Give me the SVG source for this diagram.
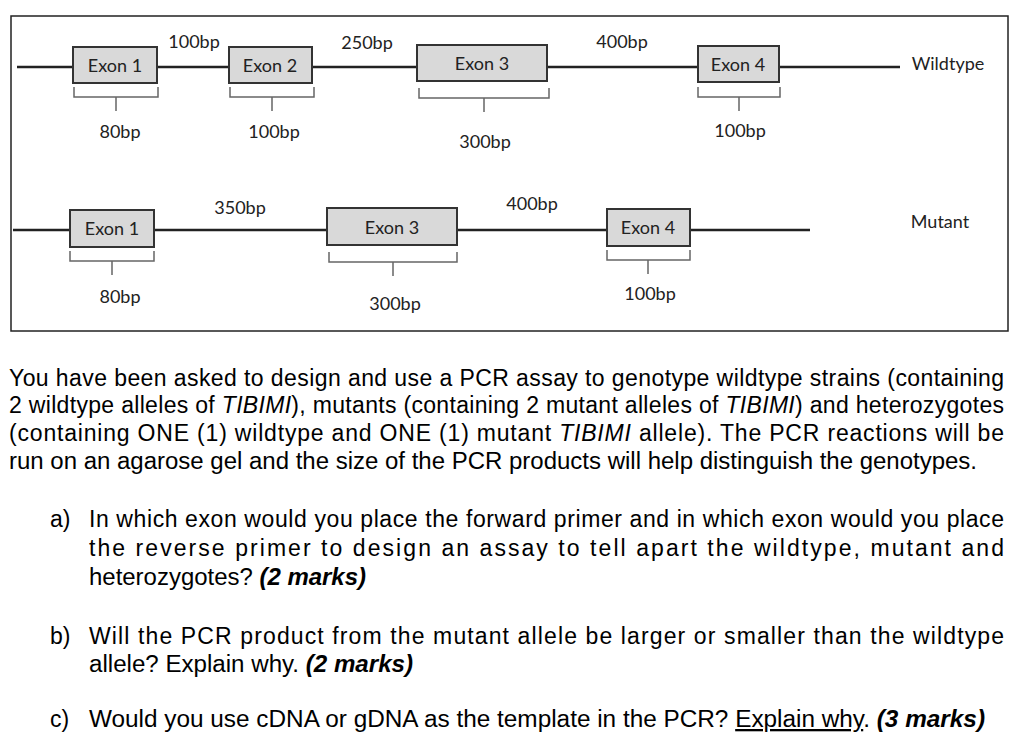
<svg xmlns="http://www.w3.org/2000/svg" width="1024" height="742" viewBox="0 0 1024 742">
<style>
.ex{fill:#d9d9d9;stroke:#333;stroke-width:2}
.ln{stroke:#222;stroke-width:2.5;fill:none}
.br{stroke:#666;stroke-width:1.5;fill:none}
.d{font-family:"Century Gothic","Lato","DejaVu Sans",sans-serif;font-size:18px;fill:#222;text-anchor:middle}
.t{font-family:"Liberation Sans",Arial,sans-serif;font-size:23px;fill:#000}
</style>
<rect x="11" y="16" width="997" height="315" fill="#fff" stroke="#222" stroke-width="1.5"/>
<g id="connectors">
<path class="ln" d="M17 67H900"/>
<path class="ln" d="M13 230H810"/>
<path class="br" d="M74 87v10h84v-10M116 97v14"/>
<path class="br" d="M230 87v10h84v-10M272 97v14"/>
<path class="br" d="M419 88v10h130v-10M484 98v14"/>
<path class="br" d="M698 87v10h82v-10M739 97v14"/>
<path class="br" d="M70 251v10h84v-10M112 261v14"/>
<path class="br" d="M329 252v10h128v-10M393 262v14"/>
<path class="br" d="M607 250v10h83v-10M648 260v14"/>
</g>
<g id="wt-exon1"><rect class="ex" x="73" y="47" width="84" height="36"/><text class="d" x="115" y="72">Exon 1</text></g>
<g id="wt-exon2"><rect class="ex" x="229" y="47" width="83" height="36"/><text class="d" x="270" y="72">Exon 2</text></g>
<g id="wt-exon3"><rect class="ex" x="417" y="45" width="130" height="36"/><text class="d" x="482" y="70">Exon 3</text></g>
<g id="wt-exon4"><rect class="ex" x="698" y="46" width="81" height="36"/><text class="d" x="738" y="71">Exon 4</text></g>
<g id="mu-exon1"><rect class="ex" x="70" y="210" width="84" height="37"/><text class="d" x="112" y="235">Exon 1</text></g>
<g id="mu-exon3"><rect class="ex" x="327" y="208" width="130" height="37"/><text class="d" x="392" y="234">Exon 3</text></g>
<g id="mu-exon4"><rect class="ex" x="607" y="209" width="83" height="37"/><text class="d" x="648" y="234">Exon 4</text></g>
<g id="labels" class="d">
<text x="194" y="48">100bp</text><text x="367" y="49">250bp</text><text x="622" y="48">400bp</text>
<text x="120" y="138">80bp</text><text x="274" y="138">100bp</text><text x="485" y="148">300bp</text><text x="740" y="137">100bp</text>
<text x="240" y="214">350bp</text><text x="532" y="210">400bp</text>
<text x="120" y="303">80bp</text><text x="395" y="310">300bp</text><text x="650" y="300">100bp</text>
<text x="948" y="70">Wildtype</text><text x="940" y="228">Mutant</text>
</g>
<g class="t">
<text x="9" y="386" textLength="995" lengthAdjust="spacing">You have been asked to design and use a PCR assay to genotype wildtype strains (containing</text>
<text x="9" y="413" textLength="995" lengthAdjust="spacing">2 wildtype alleles of <tspan font-style="italic">TIBIMI</tspan>), mutants (containing 2 mutant alleles of <tspan font-style="italic">TIBIMI</tspan>) and heterozygotes</text>
<text x="9" y="441" textLength="995" lengthAdjust="spacing">(containing ONE (1) wildtype and ONE (1) mutant <tspan font-style="italic">TIBIMI</tspan> allele). The PCR reactions will be</text>
<text x="9" y="469" textLength="968" lengthAdjust="spacingAndGlyphs">run on an agarose gel and the size of the PCR products will help distinguish the genotypes.</text>
<text x="50" y="527">a)</text>
<text x="89" y="527" textLength="915" lengthAdjust="spacing">In which exon would you place the forward primer and in which exon would you place</text>
<text x="89" y="556" textLength="915" lengthAdjust="spacing">the reverse primer to design an assay to tell apart the wildtype, mutant and</text>
<text x="89" y="585" textLength="277" lengthAdjust="spacingAndGlyphs">heterozygotes? <tspan font-weight="bold" font-style="italic">(2 marks)</tspan></text>
<text x="50" y="644">b)</text>
<text x="89" y="644" textLength="915" lengthAdjust="spacing">Will the PCR product from the mutant allele be larger or smaller than the wildtype</text>
<text x="89" y="672" textLength="324" lengthAdjust="spacingAndGlyphs">allele? Explain why. <tspan font-weight="bold" font-style="italic">(2 marks)</tspan></text>
<text x="50" y="727">c)</text>
<text x="89" y="727" textLength="896" lengthAdjust="spacingAndGlyphs">Would you use cDNA or gDNA as the template in the PCR? <tspan text-decoration="underline">Explain why</tspan>. <tspan font-weight="bold" font-style="italic">(3 marks)</tspan></text>
</g>
</svg>
